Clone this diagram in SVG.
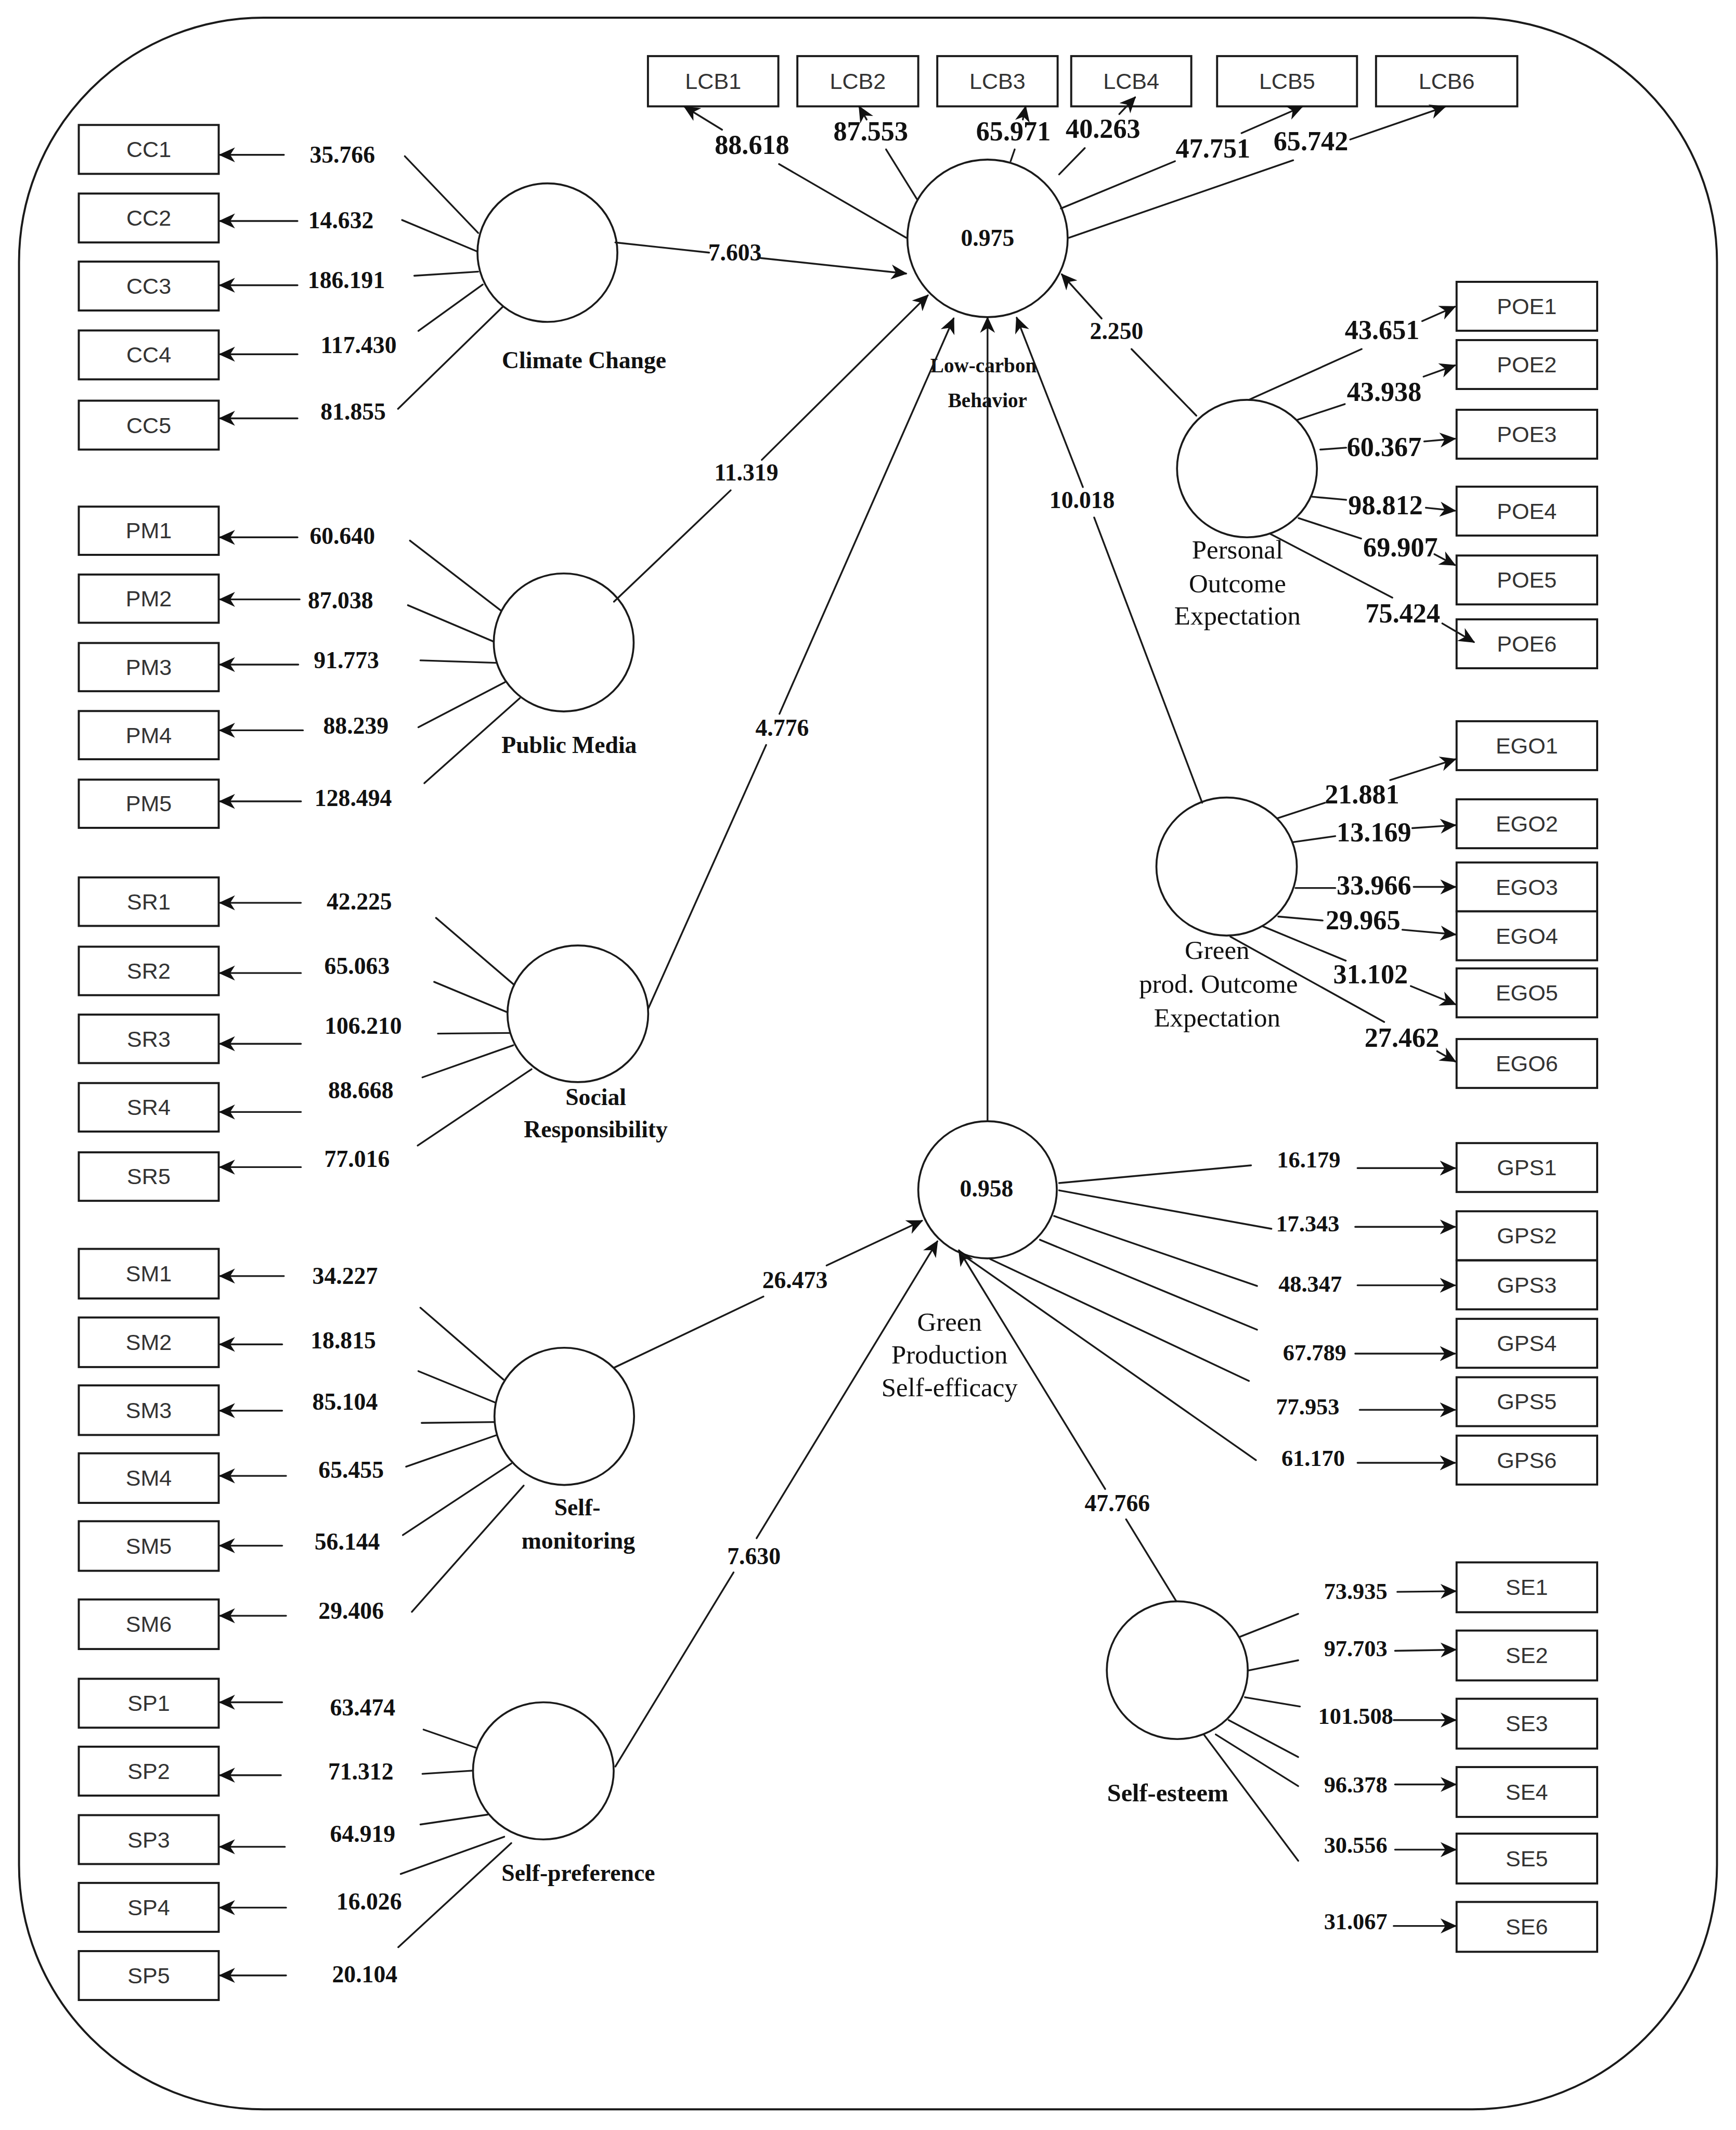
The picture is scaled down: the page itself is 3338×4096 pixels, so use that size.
<svg xmlns="http://www.w3.org/2000/svg" width="3338" height="4096" viewBox="0 0 3338 4096">
<defs>
<style>
.box{fill:#fff;stroke:#1a1a1a;stroke-width:1.5}
.lat{fill:#fff;stroke:#1a1a1a;stroke-width:1.4}
.ln{stroke:#1a1a1a;stroke-width:1.3;fill:none;stroke-linecap:round}
.ar{marker-end:url(#ah)}
.bl{font-family:"Liberation Sans",Arial,sans-serif;font-size:16.5px;fill:#333;text-anchor:middle;dominant-baseline:central}
.v{font-family:"Liberation Serif","Times New Roman",serif;font-weight:bold;font-size:17.5px;fill:#111;text-anchor:middle;dominant-baseline:central}
.vl{font-size:20px}
.vs{font-size:17px}
.lb{font-family:"Liberation Serif","Times New Roman",serif;font-weight:bold;font-size:17.5px;fill:#111;text-anchor:middle;dominant-baseline:central}
.lr{font-family:"Liberation Serif","Times New Roman",serif;font-size:19.5px;fill:#111;text-anchor:middle;dominant-baseline:central}
.sm{font-family:"Liberation Serif","Times New Roman",serif;font-weight:bold;font-size:15px;fill:#111;text-anchor:middle;dominant-baseline:central}
</style>
<marker id="ah" viewBox="0 0 12 12" refX="11" refY="6" markerWidth="12" markerHeight="12" markerUnits="userSpaceOnUse" orient="auto"><path d="M0,0.5 L12,6 L0,11.5 L3.5,6 z" fill="#111"/></marker>
</defs>
<rect width="3338" height="4096" fill="#fff"/>
<g transform="scale(2.61189)">
<rect id="frame" x="14" y="13" width="1250" height="1540" rx="180" ry="180" fill="none" stroke="#1a1a1a" stroke-width="1.5"/>

<!-- latent variables -->
<g id="climate-change"><ellipse class="lat" cx="403" cy="186" rx="51.5" ry="51"/><text class="lb" x="430" y="265">Climate Change</text></g>
<g id="public-media"><ellipse class="lat" cx="415" cy="473" rx="51.5" ry="50.8"/><text class="lb" x="419" y="548.5">Public Media</text></g>
<g id="social-responsibility"><ellipse class="lat" cx="425.4" cy="746.4" rx="51.8" ry="50.3"/><text class="lb" x="438.6" y="807.5">Social</text><text class="lb" x="438.6" y="831.5">Responsibility</text></g>
<g id="self-monitoring"><ellipse class="lat" cx="415.4" cy="1042.8" rx="51.4" ry="50.5"/><text class="lb" x="425" y="1109.6">Self-</text><text class="lb" x="425.7" y="1134.3">monitoring</text></g>
<g id="self-preference"><ellipse class="lat" cx="400" cy="1303.8" rx="51.8" ry="50.5"/><text class="lb" x="425.7" y="1379">Self-preference</text></g>
<g id="low-carbon-behavior"><ellipse class="lat" cx="727" cy="175.5" rx="59" ry="58"/><text class="v" x="727" y="175">0.975</text><text class="sm" x="724" y="269">Low-carbon</text><text class="sm" x="727" y="294.6">Behavior</text></g>
<g id="personal-outcome-expectation"><ellipse class="lat" cx="918" cy="345" rx="51.5" ry="50.6"/><text class="lr" x="911" y="404.5">Personal</text><text class="lr" x="911" y="429.5">Outcome</text><text class="lr" x="911" y="453.5">Expectation</text></g>
<g id="green-prod-outcome-expectation"><ellipse class="lat" cx="903" cy="638" rx="51.7" ry="50.8"/><text class="lr" x="896" y="699.4">Green</text><text class="lr" x="897" y="724.4">prod. Outcome</text><text class="lr" x="896" y="749.3">Expectation</text></g>
<g id="green-production-self-efficacy"><ellipse class="lat" cx="727" cy="876" rx="51" ry="50.5"/><text class="v" x="726.3" y="875">0.958</text><text class="lr" x="699" y="973.4">Green</text><text class="lr" x="699" y="997.5">Production</text><text class="lr" x="699" y="1021.6">Self-efficacy</text></g>
<g id="self-esteem"><ellipse class="lat" cx="866.7" cy="1229.7" rx="51.9" ry="50.7"/><text class="lb" x="859.7" y="1319.9" style="font-size:18.5px">Self-esteem</text></g>

<!-- indicator boxes: left -->
<g id="CC1"><rect class="box" x="58" y="92" width="103" height="36"/><text class="bl" x="109.5" y="110">CC1</text></g>
<g id="CC2"><rect class="box" x="58" y="142.5" width="103" height="36"/><text class="bl" x="109.5" y="160.5">CC2</text></g>
<g id="CC3"><rect class="box" x="58" y="192.6" width="103" height="36"/><text class="bl" x="109.5" y="210.6">CC3</text></g>
<g id="CC4"><rect class="box" x="58" y="243.3" width="103" height="36"/><text class="bl" x="109.5" y="261.3">CC4</text></g>
<g id="CC5"><rect class="box" x="58" y="295" width="103" height="36"/><text class="bl" x="109.5" y="313">CC5</text></g>
<g id="PM1"><rect class="box" x="58" y="373" width="103" height="35.5"/><text class="bl" x="109.5" y="390.7">PM1</text></g>
<g id="PM2"><rect class="box" x="58" y="423" width="103" height="35.5"/><text class="bl" x="109.5" y="440.7">PM2</text></g>
<g id="PM3"><rect class="box" x="58" y="473.4" width="103" height="35.5"/><text class="bl" x="109.5" y="491.1">PM3</text></g>
<g id="PM4"><rect class="box" x="58" y="523.5" width="103" height="35.5"/><text class="bl" x="109.5" y="541.2">PM4</text></g>
<g id="PM5"><rect class="box" x="58" y="574" width="103" height="35.5"/><text class="bl" x="109.5" y="591.7">PM5</text></g>
<g id="SR1"><rect class="box" x="58" y="646" width="103" height="35.7"/><text class="bl" x="109.5" y="663.8">SR1</text></g>
<g id="SR2"><rect class="box" x="58" y="697" width="103" height="35.7"/><text class="bl" x="109.5" y="714.8">SR2</text></g>
<g id="SR3"><rect class="box" x="58" y="747" width="103" height="35.7"/><text class="bl" x="109.5" y="764.8">SR3</text></g>
<g id="SR4"><rect class="box" x="58" y="797.4" width="103" height="35.7"/><text class="bl" x="109.5" y="815.2">SR4</text></g>
<g id="SR5"><rect class="box" x="58" y="848.4" width="103" height="35.7"/><text class="bl" x="109.5" y="866.2">SR5</text></g>
<g id="SM1"><rect class="box" x="58" y="919.5" width="103" height="36.5"/><text class="bl" x="109.5" y="937.7">SM1</text></g>
<g id="SM2"><rect class="box" x="58" y="970" width="103" height="36.5"/><text class="bl" x="109.5" y="988.2">SM2</text></g>
<g id="SM3"><rect class="box" x="58" y="1020" width="103" height="36.5"/><text class="bl" x="109.5" y="1038.2">SM3</text></g>
<g id="SM4"><rect class="box" x="58" y="1070" width="103" height="36.5"/><text class="bl" x="109.5" y="1088.2">SM4</text></g>
<g id="SM5"><rect class="box" x="58" y="1120" width="103" height="36.5"/><text class="bl" x="109.5" y="1138.2">SM5</text></g>
<g id="SM6"><rect class="box" x="58" y="1177.6" width="103" height="36.5"/><text class="bl" x="109.5" y="1195.8">SM6</text></g>
<g id="SP1"><rect class="box" x="58" y="1236" width="103" height="36"/><text class="bl" x="109.5" y="1254">SP1</text></g>
<g id="SP2"><rect class="box" x="58" y="1286" width="103" height="36"/><text class="bl" x="109.5" y="1304">SP2</text></g>
<g id="SP3"><rect class="box" x="58" y="1336.4" width="103" height="36"/><text class="bl" x="109.5" y="1354.4">SP3</text></g>
<g id="SP4"><rect class="box" x="58" y="1386.3" width="103" height="36"/><text class="bl" x="109.5" y="1404.3">SP4</text></g>
<g id="SP5"><rect class="box" x="58" y="1436.5" width="103" height="36"/><text class="bl" x="109.5" y="1454.5">SP5</text></g>

<!-- LCB boxes -->
<g id="LCB1"><rect class="box" x="477" y="41.3" width="96" height="37"/><text class="bl" x="525" y="59.8">LCB1</text></g>
<g id="LCB2"><rect class="box" x="587" y="41.3" width="89" height="37"/><text class="bl" x="631.5" y="59.8">LCB2</text></g>
<g id="LCB3"><rect class="box" x="690" y="41.3" width="88.6" height="37"/><text class="bl" x="734.3" y="59.8">LCB3</text></g>
<g id="LCB4"><rect class="box" x="788.6" y="41.3" width="88.4" height="37"/><text class="bl" x="832.8" y="59.8">LCB4</text></g>
<g id="LCB5"><rect class="box" x="896" y="41.3" width="103" height="37"/><text class="bl" x="947.5" y="59.8">LCB5</text></g>
<g id="LCB6"><rect class="box" x="1013" y="41.3" width="104" height="37"/><text class="bl" x="1065" y="59.8">LCB6</text></g>

<!-- right boxes -->
<g id="POE1"><rect class="box" x="1072.3" y="207.5" width="103.5" height="36"/><text class="bl" x="1124" y="225.5">POE1</text></g>
<g id="POE2"><rect class="box" x="1072.3" y="250.4" width="103.5" height="36"/><text class="bl" x="1124" y="268.4">POE2</text></g>
<g id="POE3"><rect class="box" x="1072.3" y="301.7" width="103.5" height="36"/><text class="bl" x="1124" y="319.7">POE3</text></g>
<g id="POE4"><rect class="box" x="1072.3" y="358.3" width="103.5" height="36"/><text class="bl" x="1124" y="376.3">POE4</text></g>
<g id="POE5"><rect class="box" x="1072.3" y="409" width="103.5" height="36"/><text class="bl" x="1124" y="427">POE5</text></g>
<g id="POE6"><rect class="box" x="1072.3" y="456" width="103.5" height="36"/><text class="bl" x="1124" y="474">POE6</text></g>
<g id="EGO1"><rect class="box" x="1072.3" y="531" width="103.5" height="36"/><text class="bl" x="1124" y="549">EGO1</text></g>
<g id="EGO2"><rect class="box" x="1072.3" y="588.5" width="103.5" height="36"/><text class="bl" x="1124" y="606.5">EGO2</text></g>
<g id="EGO3"><rect class="box" x="1072.3" y="635" width="103.5" height="36"/><text class="bl" x="1124" y="653">EGO3</text></g>
<g id="EGO4"><rect class="box" x="1072.3" y="671" width="103.5" height="36"/><text class="bl" x="1124" y="689">EGO4</text></g>
<g id="EGO5"><rect class="box" x="1072.3" y="713" width="103.5" height="36"/><text class="bl" x="1124" y="731">EGO5</text></g>
<g id="EGO6"><rect class="box" x="1072.3" y="765" width="103.5" height="36"/><text class="bl" x="1124" y="783">EGO6</text></g>
<g id="GPS1"><rect class="box" x="1072.3" y="841.6" width="103.5" height="36"/><text class="bl" x="1124" y="859.6">GPS1</text></g>
<g id="GPS2"><rect class="box" x="1072.3" y="891.8" width="103.5" height="36"/><text class="bl" x="1124" y="909.8">GPS2</text></g>
<g id="GPS3"><rect class="box" x="1072.3" y="928" width="103.5" height="36"/><text class="bl" x="1124" y="946">GPS3</text></g>
<g id="GPS4"><rect class="box" x="1072.3" y="971" width="103.5" height="36"/><text class="bl" x="1124" y="989">GPS4</text></g>
<g id="GPS5"><rect class="box" x="1072.3" y="1014" width="103.5" height="36"/><text class="bl" x="1124" y="1032">GPS5</text></g>
<g id="GPS6"><rect class="box" x="1072.3" y="1057" width="103.5" height="36"/><text class="bl" x="1124" y="1075">GPS6</text></g>
<g id="SE1"><rect class="box" x="1072.3" y="1150.3" width="103.5" height="36.7"/><text class="bl" x="1124" y="1168.6">SE1</text></g>
<g id="SE2"><rect class="box" x="1072.3" y="1200.5" width="103.5" height="36.7"/><text class="bl" x="1124" y="1218.8">SE2</text></g>
<g id="SE3"><rect class="box" x="1072.3" y="1250.7" width="103.5" height="36.7"/><text class="bl" x="1124" y="1269">SE3</text></g>
<g id="SE4"><rect class="box" x="1072.3" y="1301" width="103.5" height="36.7"/><text class="bl" x="1124" y="1319.3">SE4</text></g>
<g id="SE5"><rect class="box" x="1072.3" y="1350" width="103.5" height="36.7"/><text class="bl" x="1124" y="1368.3">SE5</text></g>
<g id="SE6"><rect class="box" x="1072.3" y="1400.3" width="103.5" height="36.7"/><text class="bl" x="1124" y="1418.6">SE6</text></g>

<g id="connectors">
<!-- CC indicators -->
<line class="ln ar" x1="209" y1="114" x2="162" y2="114"/>
<line class="ln ar" x1="219" y1="162.7" x2="162" y2="162.7"/>
<line class="ln ar" x1="219" y1="210" x2="162" y2="210"/>
<line class="ln ar" x1="219" y1="260.8" x2="162" y2="260.8"/>
<line class="ln ar" x1="219" y1="308" x2="162" y2="308"/>
<line class="ln" x1="298" y1="115" x2="352" y2="171.5"/>
<line class="ln" x1="296" y1="162" x2="351" y2="185"/>
<line class="ln" x1="305" y1="203" x2="352" y2="200"/>
<line class="ln" x1="308" y1="243.6" x2="355.4" y2="209.5"/>
<line class="ln" x1="293" y1="301" x2="370" y2="226"/>
<text class="v" x="252" y="114">35.766</text>
<text class="v" x="251" y="162">14.632</text>
<text class="v" x="255" y="206">186.191</text>
<text class="v" x="264" y="254">117.430</text>
<text class="v" x="260" y="303">81.855</text>
<!-- PM indicators -->
<line class="ln ar" x1="219" y1="395.6" x2="162" y2="395.6"/>
<line class="ln ar" x1="220.6" y1="441.3" x2="162" y2="441.3"/>
<line class="ln ar" x1="219.6" y1="489.3" x2="162" y2="489.3"/>
<line class="ln ar" x1="223" y1="537.7" x2="162" y2="537.7"/>
<line class="ln ar" x1="221.6" y1="590" x2="162" y2="590"/>
<line class="ln" x1="301.8" y1="398" x2="369" y2="449.7"/>
<line class="ln" x1="300.3" y1="445.6" x2="363.5" y2="472.4"/>
<line class="ln" x1="309.5" y1="486.2" x2="365" y2="488"/>
<line class="ln" x1="308" y1="535.4" x2="371.8" y2="502.2"/>
<line class="ln" x1="312.4" y1="576.6" x2="382.7" y2="514"/>
<text class="v" x="252" y="394.5">60.640</text>
<text class="v" x="250.7" y="442">87.038</text>
<text class="v" x="255" y="486.2">91.773</text>
<text class="v" x="262" y="534.3">88.239</text>
<text class="v" x="260" y="587.5">128.494</text>
<!-- SR indicators -->
<line class="ln ar" x1="221.5" y1="664.7" x2="162" y2="664.7"/>
<line class="ln ar" x1="221.5" y1="716.4" x2="162" y2="716.4"/>
<line class="ln ar" x1="221.5" y1="768.5" x2="162" y2="768.5"/>
<line class="ln ar" x1="221.5" y1="818.7" x2="162" y2="818.7"/>
<line class="ln ar" x1="221.5" y1="859.3" x2="162" y2="859.3"/>
<line class="ln" x1="321" y1="675.8" x2="378.4" y2="725"/>
<line class="ln" x1="319.6" y1="722.9" x2="373.5" y2="745.3"/>
<line class="ln" x1="322.4" y1="761" x2="375.5" y2="760.5"/>
<line class="ln" x1="311" y1="793.2" x2="377.8" y2="769.6"/>
<line class="ln" x1="307.5" y1="843.4" x2="391.3" y2="787.2"/>
<text class="v" x="264.5" y="663.6">42.225</text>
<text class="v" x="262.8" y="711">65.063</text>
<text class="v" x="267.4" y="755.3">106.210</text>
<text class="v" x="265.6" y="802.6">88.668</text>
<text class="v" x="262.8" y="853.4">77.016</text>
<!-- SM indicators -->
<line class="ln ar" x1="209" y1="939.5" x2="162" y2="939.5"/>
<line class="ln ar" x1="207.7" y1="989.8" x2="162" y2="989.8"/>
<line class="ln ar" x1="207.7" y1="1038.6" x2="162" y2="1038.6"/>
<line class="ln ar" x1="210.6" y1="1086.6" x2="162" y2="1086.6"/>
<line class="ln ar" x1="207.7" y1="1138" x2="162" y2="1138"/>
<line class="ln ar" x1="210.6" y1="1189.6" x2="162" y2="1189.6"/>
<line class="ln" x1="309.5" y1="962.8" x2="370.6" y2="1015.7"/>
<line class="ln" x1="308" y1="1009.5" x2="364" y2="1032.4"/>
<line class="ln" x1="310.4" y1="1047.6" x2="363.5" y2="1047"/>
<line class="ln" x1="299" y1="1079.8" x2="365" y2="1056.8"/>
<line class="ln" x1="296.6" y1="1130.2" x2="376.4" y2="1077.5"/>
<line class="ln" x1="303.2" y1="1186.7" x2="385.5" y2="1093.8"/>
<text class="v" x="254" y="939.5">34.227</text>
<text class="v" x="252.7" y="986.8">18.815</text>
<text class="v" x="254" y="1032">85.104</text>
<text class="v" x="258.5" y="1082.3">65.455</text>
<text class="v" x="255.6" y="1135">56.144</text>
<text class="v" x="258.5" y="1186">29.406</text>
<!-- SP indicators -->
<line class="ln ar" x1="207.7" y1="1253.3" x2="162" y2="1253.3"/>
<line class="ln ar" x1="206.8" y1="1307" x2="162" y2="1307"/>
<line class="ln ar" x1="209.7" y1="1359.7" x2="162" y2="1359.7"/>
<line class="ln ar" x1="210.6" y1="1404.5" x2="162" y2="1404.5"/>
<line class="ln ar" x1="210.6" y1="1454.4" x2="162" y2="1454.4"/>
<line class="ln" x1="311.8" y1="1273.4" x2="351" y2="1287"/>
<line class="ln" x1="311" y1="1306" x2="348.3" y2="1303.6"/>
<line class="ln" x1="309.5" y1="1343.3" x2="359" y2="1336"/>
<line class="ln" x1="295" y1="1379.7" x2="371.2" y2="1352.3"/>
<line class="ln" x1="293.2" y1="1433.6" x2="376.4" y2="1357"/>
<text class="v" x="267" y="1257">63.474</text>
<text class="v" x="265.6" y="1304.4">71.312</text>
<text class="v" x="267" y="1350">64.919</text>
<text class="v" x="271.7" y="1400">16.026</text>
<text class="v" x="268.5" y="1453.6">20.104</text>

<!-- structural paths -->
<line class="ln" x1="453" y1="178.5" x2="522" y2="186"/>
<line class="ln ar" x1="560" y1="190" x2="667" y2="201.4"/>
<text class="v" x="541" y="186">7.603</text>
<line class="ln" x1="452" y1="443" x2="537.9" y2="361"/>
<line class="ln ar" x1="560.8" y1="338.6" x2="683" y2="217.5"/>
<text class="v" x="549.4" y="348">11.319</text>
<line class="ln" x1="477.3" y1="742.4" x2="564" y2="548.5"/>
<line class="ln ar" x1="573.8" y1="525.6" x2="702" y2="234.5"/>
<text class="v" x="575.8" y="535.8">4.776</text>
<line class="ln ar" x1="727" y1="825.4" x2="727" y2="234"/>
<line class="ln" x1="885" y1="591" x2="805.5" y2="381"/>
<line class="ln ar" x1="797.2" y1="358.6" x2="748.5" y2="234"/>
<text class="v" x="796.6" y="368.3">10.018</text>
<line class="ln" x1="880.7" y1="306" x2="833" y2="257"/>
<line class="ln ar" x1="811" y1="234.5" x2="781.7" y2="202"/>
<text class="v" x="822" y="243.6">2.250</text>
<line class="ln" x1="452.4" y1="1006.8" x2="562" y2="954.6"/>
<line class="ln ar" x1="608.5" y1="931.7" x2="678.7" y2="898.8"/>
<text class="v" x="585.2" y="942.6">26.473</text>
<line class="ln" x1="453" y1="1300.6" x2="540" y2="1157.7"/>
<line class="ln ar" x1="557" y1="1132.5" x2="690" y2="914"/>
<text class="v" x="555" y="1145.6">7.630</text>
<line class="ln" x1="866" y1="1179" x2="829" y2="1118.6"/>
<line class="ln ar" x1="813.6" y1="1096.3" x2="706" y2="920.6"/>
<text class="v" x="822.5" y="1106.8">47.766</text>

<!-- LCB indicators -->
<line class="ln" x1="667" y1="175" x2="573.5" y2="120.8"/>
<line class="ln ar" x1="531.6" y1="95.5" x2="504" y2="78.6"/>
<text class="v vl" x="553.6" y="106.4">88.618</text>
<line class="ln" x1="675" y1="146.6" x2="652.3" y2="110"/>
<line class="ln ar" x1="638" y1="88" x2="632.6" y2="78.6"/>
<text class="v vl" x="641" y="96.4">87.553</text>
<line class="ln" x1="744" y1="118.7" x2="747" y2="110"/>
<line class="ln ar" x1="753" y1="88" x2="755" y2="78.6"/>
<text class="v vl" x="746" y="96.4">65.971</text>
<line class="ln" x1="779.7" y1="128.4" x2="798.6" y2="109"/>
<line class="ln ar" x1="824" y1="84" x2="835.6" y2="71.7"/>
<text class="v vl" x="812" y="94.7">40.263</text>
<line class="ln" x1="781" y1="153.5" x2="865" y2="118.7"/>
<line class="ln ar" x1="914" y1="98" x2="958.5" y2="78.6"/>
<text class="v vl" x="893" y="109">47.751</text>
<line class="ln" x1="787" y1="175" x2="952" y2="118"/>
<line class="ln ar" x1="994" y1="102.7" x2="1063.7" y2="78.6"/>
<text class="v vl" x="965" y="103.6">65.742</text>

<!-- POE indicators -->
<line class="ln" x1="919.5" y1="294.3" x2="1002.4" y2="257"/>
<line class="ln ar" x1="1047" y1="236.4" x2="1071" y2="225.8"/>
<text class="v vl" x="1017.5" y="242.7">43.651</text>
<line class="ln" x1="955.3" y1="309" x2="990" y2="297.5"/>
<line class="ln ar" x1="1048" y1="277.3" x2="1071" y2="269"/>
<text class="v vl" x="1019" y="288.3">43.938</text>
<line class="ln" x1="972" y1="331" x2="991" y2="329.6"/>
<line class="ln ar" x1="1048.5" y1="325" x2="1071" y2="323"/>
<text class="v vl" x="1019" y="329">60.367</text>
<line class="ln" x1="965.8" y1="365.7" x2="991" y2="368"/>
<line class="ln ar" x1="1049.7" y1="373.8" x2="1071" y2="376"/>
<text class="v vl" x="1020" y="371.8">98.812</text>
<line class="ln" x1="956" y1="381.5" x2="1002" y2="396.5"/>
<line class="ln ar" x1="1056" y1="408" x2="1071" y2="416"/>
<text class="v vl" x="1031" y="402.6">69.907</text>
<line class="ln" x1="935" y1="393" x2="1025" y2="440"/>
<line class="ln ar" x1="1061.8" y1="459" x2="1085" y2="472.7"/>
<text class="v vl" x="1032.7" y="451.5">75.424</text>

<!-- EGO indicators -->
<line class="ln" x1="940.6" y1="602.4" x2="975.5" y2="591"/>
<line class="ln ar" x1="1023.4" y1="574.3" x2="1071.3" y2="559"/>
<text class="v vl" x="1002.7" y="584.8">21.881</text>
<line class="ln" x1="952" y1="620" x2="983" y2="615.6"/>
<line class="ln ar" x1="1039.7" y1="609.7" x2="1071.3" y2="607.5"/>
<text class="v vl" x="1011.5" y="612.5">13.169</text>
<line class="ln" x1="953.7" y1="653.8" x2="983" y2="653.8"/>
<line class="ln ar" x1="1040.7" y1="653" x2="1071.3" y2="653"/>
<text class="v vl" x="1011.5" y="651.8">33.966</text>
<line class="ln" x1="941" y1="674.8" x2="973.7" y2="677.7"/>
<line class="ln ar" x1="1032.4" y1="684.5" x2="1071.3" y2="688"/>
<text class="v vl" x="1003.4" y="677.2">29.965</text>
<line class="ln" x1="929.7" y1="682" x2="990.7" y2="707.3"/>
<line class="ln ar" x1="1038.6" y1="726" x2="1071.3" y2="739.4"/>
<text class="v vl" x="1009" y="717">31.102</text>
<line class="ln" x1="905.8" y1="689.6" x2="1019" y2="752.4"/>
<line class="ln ar" x1="1058" y1="774" x2="1071.3" y2="781.5"/>
<text class="v vl" x="1032" y="764">27.462</text>

<!-- GPS indicators -->
<line class="ln" x1="779.7" y1="871" x2="921" y2="858"/>
<line class="ln ar" x1="999.4" y1="860" x2="1071" y2="860"/>
<text class="v vs" x="963.4" y="853.6">16.179</text>
<line class="ln" x1="779.7" y1="876.4" x2="936" y2="904.7"/>
<line class="ln ar" x1="997.7" y1="903.3" x2="1071" y2="903.3"/>
<text class="v vs" x="962.7" y="900.7">17.343</text>
<line class="ln" x1="776" y1="895.3" x2="925.4" y2="946.8"/>
<line class="ln ar" x1="999.4" y1="946.3" x2="1071" y2="946.3"/>
<text class="v vs" x="964.5" y="945.4">48.347</text>
<line class="ln" x1="765.6" y1="912.8" x2="925.4" y2="979"/>
<line class="ln ar" x1="997.7" y1="996.6" x2="1071" y2="996.6"/>
<text class="v vs" x="967.8" y="996">67.789</text>
<line class="ln" x1="729" y1="927" x2="919.4" y2="1016.7"/>
<line class="ln ar" x1="1001" y1="1038" x2="1071" y2="1038"/>
<text class="v vs" x="962.7" y="1035.6">77.953</text>
<line class="ln" x1="708" y1="923.4" x2="924.6" y2="1075"/>
<line class="ln ar" x1="999.4" y1="1077" x2="1071" y2="1077"/>
<text class="v vs" x="966.7" y="1073.7">61.170</text>

<!-- SE indicators -->
<line class="ln" x1="913" y1="1205" x2="955.7" y2="1188.2"/>
<line class="ln" x1="918.5" y1="1230" x2="955.7" y2="1222.4"/>
<line class="ln" x1="916.5" y1="1249.6" x2="957" y2="1256.4"/>
<line class="ln" x1="904.5" y1="1266.4" x2="955.7" y2="1293.6"/>
<line class="ln" x1="895" y1="1277" x2="955.7" y2="1315"/>
<line class="ln" x1="886.6" y1="1277.5" x2="955.7" y2="1370"/>
<line class="ln ar" x1="1028.7" y1="1172" x2="1071.5" y2="1171.5"/>
<line class="ln ar" x1="1027" y1="1215.4" x2="1071.5" y2="1214.6"/>
<line class="ln ar" x1="1026" y1="1266.4" x2="1071.5" y2="1266.4"/>
<line class="ln ar" x1="1027" y1="1313.8" x2="1071.5" y2="1313.8"/>
<line class="ln ar" x1="1027" y1="1361.8" x2="1071.5" y2="1361.8"/>
<line class="ln ar" x1="1026" y1="1418" x2="1071.5" y2="1418"/>
<text class="v vs" x="998" y="1171.5">73.935</text>
<text class="v vs" x="998" y="1213.5">97.703</text>
<text class="v vs" x="998" y="1263.6">101.508</text>
<text class="v vs" x="998" y="1313.8">96.378</text>
<text class="v vs" x="998" y="1358.5">30.556</text>
<text class="v vs" x="998" y="1414.8">31.067</text>
</g>
</g>
</svg>
